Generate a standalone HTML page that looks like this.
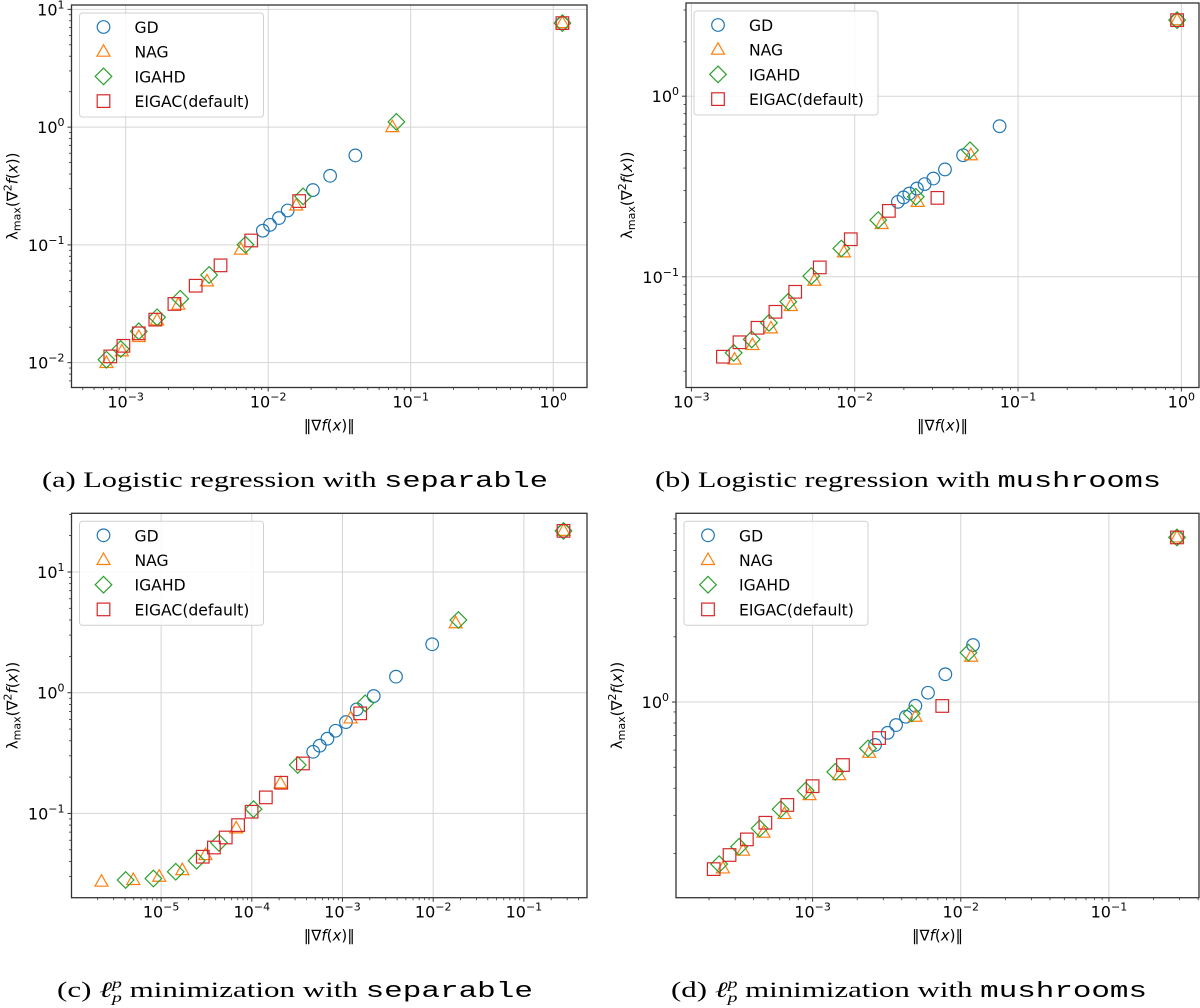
<!DOCTYPE html>
<html><head><meta charset="utf-8"><style>
html,body{margin:0;padding:0;background:#fff;}
svg{display:block;}
</style></head><body>
<svg id="fig" xmlns="http://www.w3.org/2000/svg" width="1200" height="1008" viewBox="0 0 1200 1008">
<rect x="0" y="0" width="1200" height="1008" fill="#fff"/>
<g><text x="42" y="487" font-family="Liberation Serif, serif" font-size="22" textLength="506" lengthAdjust="spacingAndGlyphs">(a) Logistic regression with <tspan font-family="Liberation Mono, monospace">separable</tspan></text></g>
<g><text x="655" y="487" font-family="Liberation Serif, serif" font-size="22" textLength="506" lengthAdjust="spacingAndGlyphs">(b) Logistic regression with <tspan font-family="Liberation Mono, monospace">mushrooms</tspan></text></g>
<g><text x="57" y="997" font-family="Liberation Serif, serif" font-size="22" textLength="476" lengthAdjust="spacingAndGlyphs">(c) <tspan font-style="italic">ℓ</tspan><tspan font-size="14" font-style="italic" dy="-9">p</tspan><tspan font-size="14" font-style="italic" dx="-7" dy="14">p</tspan><tspan dy="-5"> minimization with </tspan><tspan font-family="Liberation Mono, monospace">separable</tspan></text></g>
<g><text x="671" y="997" font-family="Liberation Serif, serif" font-size="22" textLength="476" lengthAdjust="spacingAndGlyphs">(d) <tspan font-style="italic">ℓ</tspan><tspan font-size="14" font-style="italic" dy="-9">p</tspan><tspan font-size="14" font-style="italic" dx="-7" dy="14">p</tspan><tspan dy="-5"> minimization with </tspan><tspan font-family="Liberation Mono, monospace">mushrooms</tspan></text></g>
</svg>
<script>
// ---------- Panel (a) data ----------
const aGDx=[0.00917,0.0103,0.0119,0.0137,0.0206,0.0272,0.0409,1.16];
const aGDy=[0.132,0.148,0.169,0.196,0.292,0.386,0.575,7.64];
const aNAGx=[7.33e-4,9.40e-4,1.236e-3,1.663e-3,2.34e-3,3.72e-3,6.44e-3,0.01574,0.0743,1.16];
const aNAGy=[0.00993,0.01247,0.01652,0.02286,0.03105,0.049,0.091,0.216,1.0,7.64];
const aIGx=[7.33e-4,9.23e-4,1.236e-3,1.663e-3,2.415e-3,3.85e-3,6.93e-3,0.01758,0.0794,1.16];
const aIGy=[0.0106,0.01306,0.01845,0.02427,0.0349,0.0555,0.1002,0.258,1.109,7.64];
const aEIx=[7.8e-4,9.64e-4,1.236e-3,1.614e-3,2.198e-3,3.1e-3,4.63e-3,7.6e-3,0.0165,1.16];
const aEIy=[0.0113,0.0139,0.01774,0.0232,0.0315,0.045,0.067,0.109,0.2355,7.64];
const aXticks=[-3,-2,-1,0];
const aYticks=[-2,-1,0,1];
// ---------- Panel (b) data ----------
const bGDx=[0.01837,0.0199,0.0216,0.02404,0.0268,0.0303,0.0357,0.0461,0.0771,0.942];
const bGDy=[0.260,0.275,0.289,0.308,0.326,0.350,0.393,0.471,0.682,2.636];
const bNAGx=[1.837e-3,2.366e-3,3.07e-3,4.06e-3,5.66e-3,8.59e-3,0.01462,0.0243,0.0514,0.942];
const bNAGy=[0.0348,0.0419,0.0518,0.0689,0.0951,0.1365,0.196,0.260,0.471,2.636];
const bIGx=[1.815e-3,2.34e-3,2.985e-3,3.92e-3,5.42e-3,8.28e-3,0.01393,0.02366,0.0508,0.942];
const bIGy=[0.0379,0.045,0.0556,0.0728,0.1009,0.1435,0.206,0.2773,0.502,2.636];
const bEIx=[1.56e-3,1.97e-3,2.54e-3,3.27e-3,4.32e-3,6.11e-3,9.46e-3,0.01618,0.0321,0.942];
const bEIy=[0.0361,0.0434,0.0522,0.0640,0.0826,0.1127,0.1614,0.2317,0.2735,2.636];
const bXticks=[-3,-2,-1,0];
const bYticks=[-1,0];
// ---------- Panel (c) data ----------
const cGDx=[4.75e-4,5.61e-4,6.82e-4,8.39e-4,1.092e-3,1.436e-3,2.21e-3,3.89e-3,9.75e-3,0.2735];
const cGDy=[0.324,0.364,0.416,0.484,0.571,0.728,0.938,1.358,2.518,21.9];
const cNAGx=[2.2e-6,4.94e-6,9.53e-6,1.714e-5,3.08e-5,6.73e-5,2.07e-4,1.227e-3,0.0177,0.2735];
const cNAGy=[0.0272,0.0281,0.0299,0.0339,0.0452,0.0752,0.1774,0.612,3.76,21.9];
const cIGx=[4.06e-6,8.22e-6,1.449e-5,2.46e-5,4.34e-5,1.045e-4,3.21e-4,1.782e-3,0.01897,0.2735];
const cIGy=[0.0281,0.0289,0.0329,0.0406,0.0571,0.1086,0.2518,0.817,4.0,21.9];
const cEIx=[2.88e-5,3.82e-5,5.16e-5,7.06e-5,9.95e-5,1.429e-4,2.11e-4,3.66e-4,1.567e-3,0.2735];
const cEIy=[0.0438,0.0522,0.0632,0.080,0.1033,0.1358,0.1795,0.2594,0.6745,21.9];
const cXticks=[-5,-4,-3,-2,-1];
const cYticks=[-1,0,1];
// ---------- Panel (d) data ----------
const dGDx=[2.64e-3,3.21e-3,3.66e-3,4.26e-3,4.94e-3,6.01e-3,7.87e-3,0.0121,0.288];
const dGDy=[0.634,0.721,0.783,0.855,0.961,1.104,1.343,1.832,5.75];
const dNAGx=[2.48e-4,3.39e-4,4.66e-4,6.46e-4,9.53e-4,1.51e-3,2.41e-3,4.94e-3,0.01175,0.288];
const dNAGy=[0.1706,0.206,0.2495,0.304,0.372,0.460,0.583,0.855,1.618,5.75];
const dIGx=[2.34e-4,3.19e-4,4.39e-4,6.08e-4,8.97e-4,1.422e-3,2.366e-3,4.66e-3,0.01127,0.288];
const dIGy=[0.1786,0.2148,0.2612,0.320,0.390,0.476,0.611,0.887,1.69,5.75];
const dEIx=[2.15e-4,2.75e-4,3.6e-4,4.8e-4,6.75e-4,1.0e-3,1.603e-3,2.81e-3,7.5e-3,0.288];
const dEIy=[0.1694,0.1968,0.2323,0.2773,0.335,0.409,0.512,0.682,0.959,5.75];
const dXticks=[-3,-2,-1];
const dYticks=[0];

const seriesNames=['GD','NAG','IGAHD','EIGAC(default)'];
const NS='http://www.w3.org/2000/svg';
const svg=document.getElementById('fig');
const COLORS=['#1f77b4','#ff7f0e','#2ca02c','#d62728'];
const TYPES=['circle','tri','diamond','square'];
const FONT='DejaVu Sans, Liberation Sans, sans-serif';

function mk(tag,attrs,parent){const e=document.createElementNS(NS,tag);for(const k in attrs)e.setAttribute(k,attrs[k]);if(parent)parent.appendChild(e);return e;}

function marker(type,cx,cy,color,parent){
  let e;
  const st={fill:'none',stroke:color,'stroke-width':1.2};
  if(type==='circle'){e=mk('circle',Object.assign({cx:cx,cy:cy,r:6.3},st),parent);}
  else if(type==='tri'){e=mk('polygon',Object.assign({points:`${cx},${cy-7} ${cx+6.5},${cy+4.5} ${cx-6.5},${cy+4.5}`},st),parent);}
  else if(type==='diamond'){e=mk('polygon',Object.assign({points:`${cx},${cy-8.3} ${cx+8.3},${cy} ${cx},${cy+8.3} ${cx-8.3},${cy}`},st),parent);}
  else {e=mk('rect',Object.assign({x:cx-6.3,y:cy-6.3,width:12.6,height:12.6},st),parent);}
  return e;
}

function powLabel(parent,x,y,exp,anchor){
  const t=mk('text',{x:x,y:y,'font-family':FONT,'font-size':16,'text-anchor':anchor,fill:'#000'},parent);
  t.appendChild(document.createTextNode('10'));
  const s=mk('tspan',{'font-size':11,dy:-7},t);
  s.textContent=(exp<0?'\u2212':'')+Math.abs(exp);
  return t;
}

function panel(p){
  const g=mk('g',{},svg);
  
  
  const X=v=>p.x0+(Math.log10(v)-p.lx0)/(p.lx1-p.lx0)*(p.x1-p.x0);
  const Y=v=>p.y1-(Math.log10(v)-p.ly0)/(p.ly1-p.ly0)*(p.y1-p.y0);
  const clipId='clip-'+p.name;
  const cp=mk('clipPath',{id:clipId},g);
  mk('rect',{x:p.x0,y:p.y0,width:p.x1-p.x0,height:p.y1-p.y0},cp);
  // grid
  const grid=mk('g',{},g);
  
  
  p.xt.forEach(e=>{const x=X(Math.pow(10,e));mk('line',{x1:x,x2:x,y1:p.y0,y2:p.y1,stroke:'#d5d5d5','stroke-width':1},grid);});
  p.yt.forEach(e=>{const y=Y(Math.pow(10,e));mk('line',{x1:p.x0,x2:p.x1,y1:y,y2:y,stroke:'#d5d5d5','stroke-width':1},grid);});
  // minor ticks
  const ticks=mk('g',{stroke:'#333','stroke-width':0.8},g);
  for(let d=Math.floor(p.lx0);d<=Math.ceil(p.lx1);d++){for(let k=2;k<10;k++){const l=d+Math.log10(k);if(l>p.lx0&&l<p.lx1){const x=X(Math.pow(10,l));mk('line',{x1:x,x2:x,y1:p.y1,y2:p.y1+2.5},ticks);}}}
  for(let d=Math.floor(p.ly0);d<=Math.ceil(p.ly1);d++){for(let k=2;k<10;k++){const l=d+Math.log10(k);if(l>p.ly0&&l<p.ly1){const y=Y(Math.pow(10,l));mk('line',{x1:p.x0-2.5,x2:p.x0,y1:y,y2:y},ticks);}}}
  // major ticks + labels
  p.xt.forEach(e=>{const x=X(Math.pow(10,e));mk('line',{x1:x,x2:x,y1:p.y1,y2:p.y1+4,stroke:'#333','stroke-width':1},g);
    const t=powLabel(g,x,p.y1+20,e,'middle');
    
    });
  p.yt.forEach(e=>{const y=Y(Math.pow(10,e));mk('line',{x1:p.x0-4,x2:p.x0,y1:y,y2:y,stroke:'#333','stroke-width':1},g);
    const t=powLabel(g,p.x0-7,y+6,e,'end');
    
    });
  // series
  const pts=mk('g',{'clip-path':`url(#${clipId})`},g);
  p.series.forEach((s,i)=>{
    const sg=mk('g',{},pts);
    
    
    s[0].forEach((xv,j)=>{const m=marker(TYPES[i],X(xv),Y(s[1][j]),COLORS[i],sg);
      
      });
  });
  // frame
  const fr=mk('rect',{x:p.x0,y:p.y0,width:p.x1-p.x0,height:p.y1-p.y0,fill:'none',stroke:'#333','stroke-width':1.3},g);
  
  
  // legend
  const lg=mk('g',{},g);
  
  
  const lx=p.x0+8,ly=p.y0+8;
  mk('rect',{x:lx,y:ly,width:184,height:104,rx:3,fill:'#fff','fill-opacity':0.85,stroke:'#d0d0d0','stroke-width':1},lg);
  seriesNames.forEach((n,i)=>{
    const eg=mk('g',{},lg);
    
    
    const ry=p.y0+22+i*24.7;
    marker(TYPES[i],lx+24,ry,COLORS[i],eg);
    const t=mk('text',{x:lx+55,y:ry+6,'font-family':FONT,'font-size':15.6,fill:'#000'},eg);
    t.textContent=n;
  });
  // x label
  const xl=mk('text',{x:(p.x0+p.x1)/2,y:p.y1+43,'font-family':FONT,'font-size':15,'text-anchor':'middle',fill:'#000'},g);
  
  
  xl.innerHTML='‖∇<tspan font-style="italic">f</tspan>(<tspan font-style="italic">x</tspan>)‖';
  // y label
  const cy=(p.y0+p.y1)/2;
  const yl=mk('text',{x:0,y:0,'font-family':FONT,'font-size':15,'text-anchor':'middle',fill:'#000',transform:`translate(${p.x0-54},${cy}) rotate(-90)`},g);
  
  
  yl.innerHTML='λ<tspan font-size="11" dy="3">max</tspan><tspan dy="-3">(∇</tspan><tspan font-size="11" dy="-6">2</tspan><tspan dy="6" font-style="italic">f</tspan>(<tspan font-style="italic">x</tspan>))';
}

panel({name:'panel-a',x0:71.5,x1:587,y0:5,y1:387.5,lx0:-3.380,lx1:0.237,ly0:-2.211,ly1:1.037,xt:aXticks,yt:aYticks,
  series:[[aGDx,aGDy],[aNAGx,aNAGy],[aIGx,aIGy],[aEIx,aEIy]]});
panel({name:'panel-b',x0:686,x1:1199,y0:3,y1:387.5,lx0:-3.033,lx1:0.108,ly0:-1.613,ly1:0.516,xt:bXticks,yt:bYticks,
  series:[[bGDx,bGDy],[bNAGx,bNAGy],[bIGx,bIGy],[bEIx,bEIy]]});
panel({name:'panel-c',x0:71.5,x1:587,y0:513.3,y1:897.7,lx0:-5.988,lx1:-0.304,ly0:-1.698,ly1:1.486,xt:cXticks,yt:cYticks,
  series:[[cGDx,cGDy],[cNAGx,cNAGy],[cIGx,cIGy],[cEIx,cEIy]]});
panel({name:'panel-d',x0:676,x1:1199,y0:513.3,y1:897.7,lx0:-3.922,lx1:-0.392,ly0:-0.903,ly1:0.871,xt:dXticks,yt:dYticks,
  series:[[dGDx,dGDy],[dNAGx,dNAGy],[dIGx,dIGy],[dEIx,dEIy]]});
</script>
</body></html>
